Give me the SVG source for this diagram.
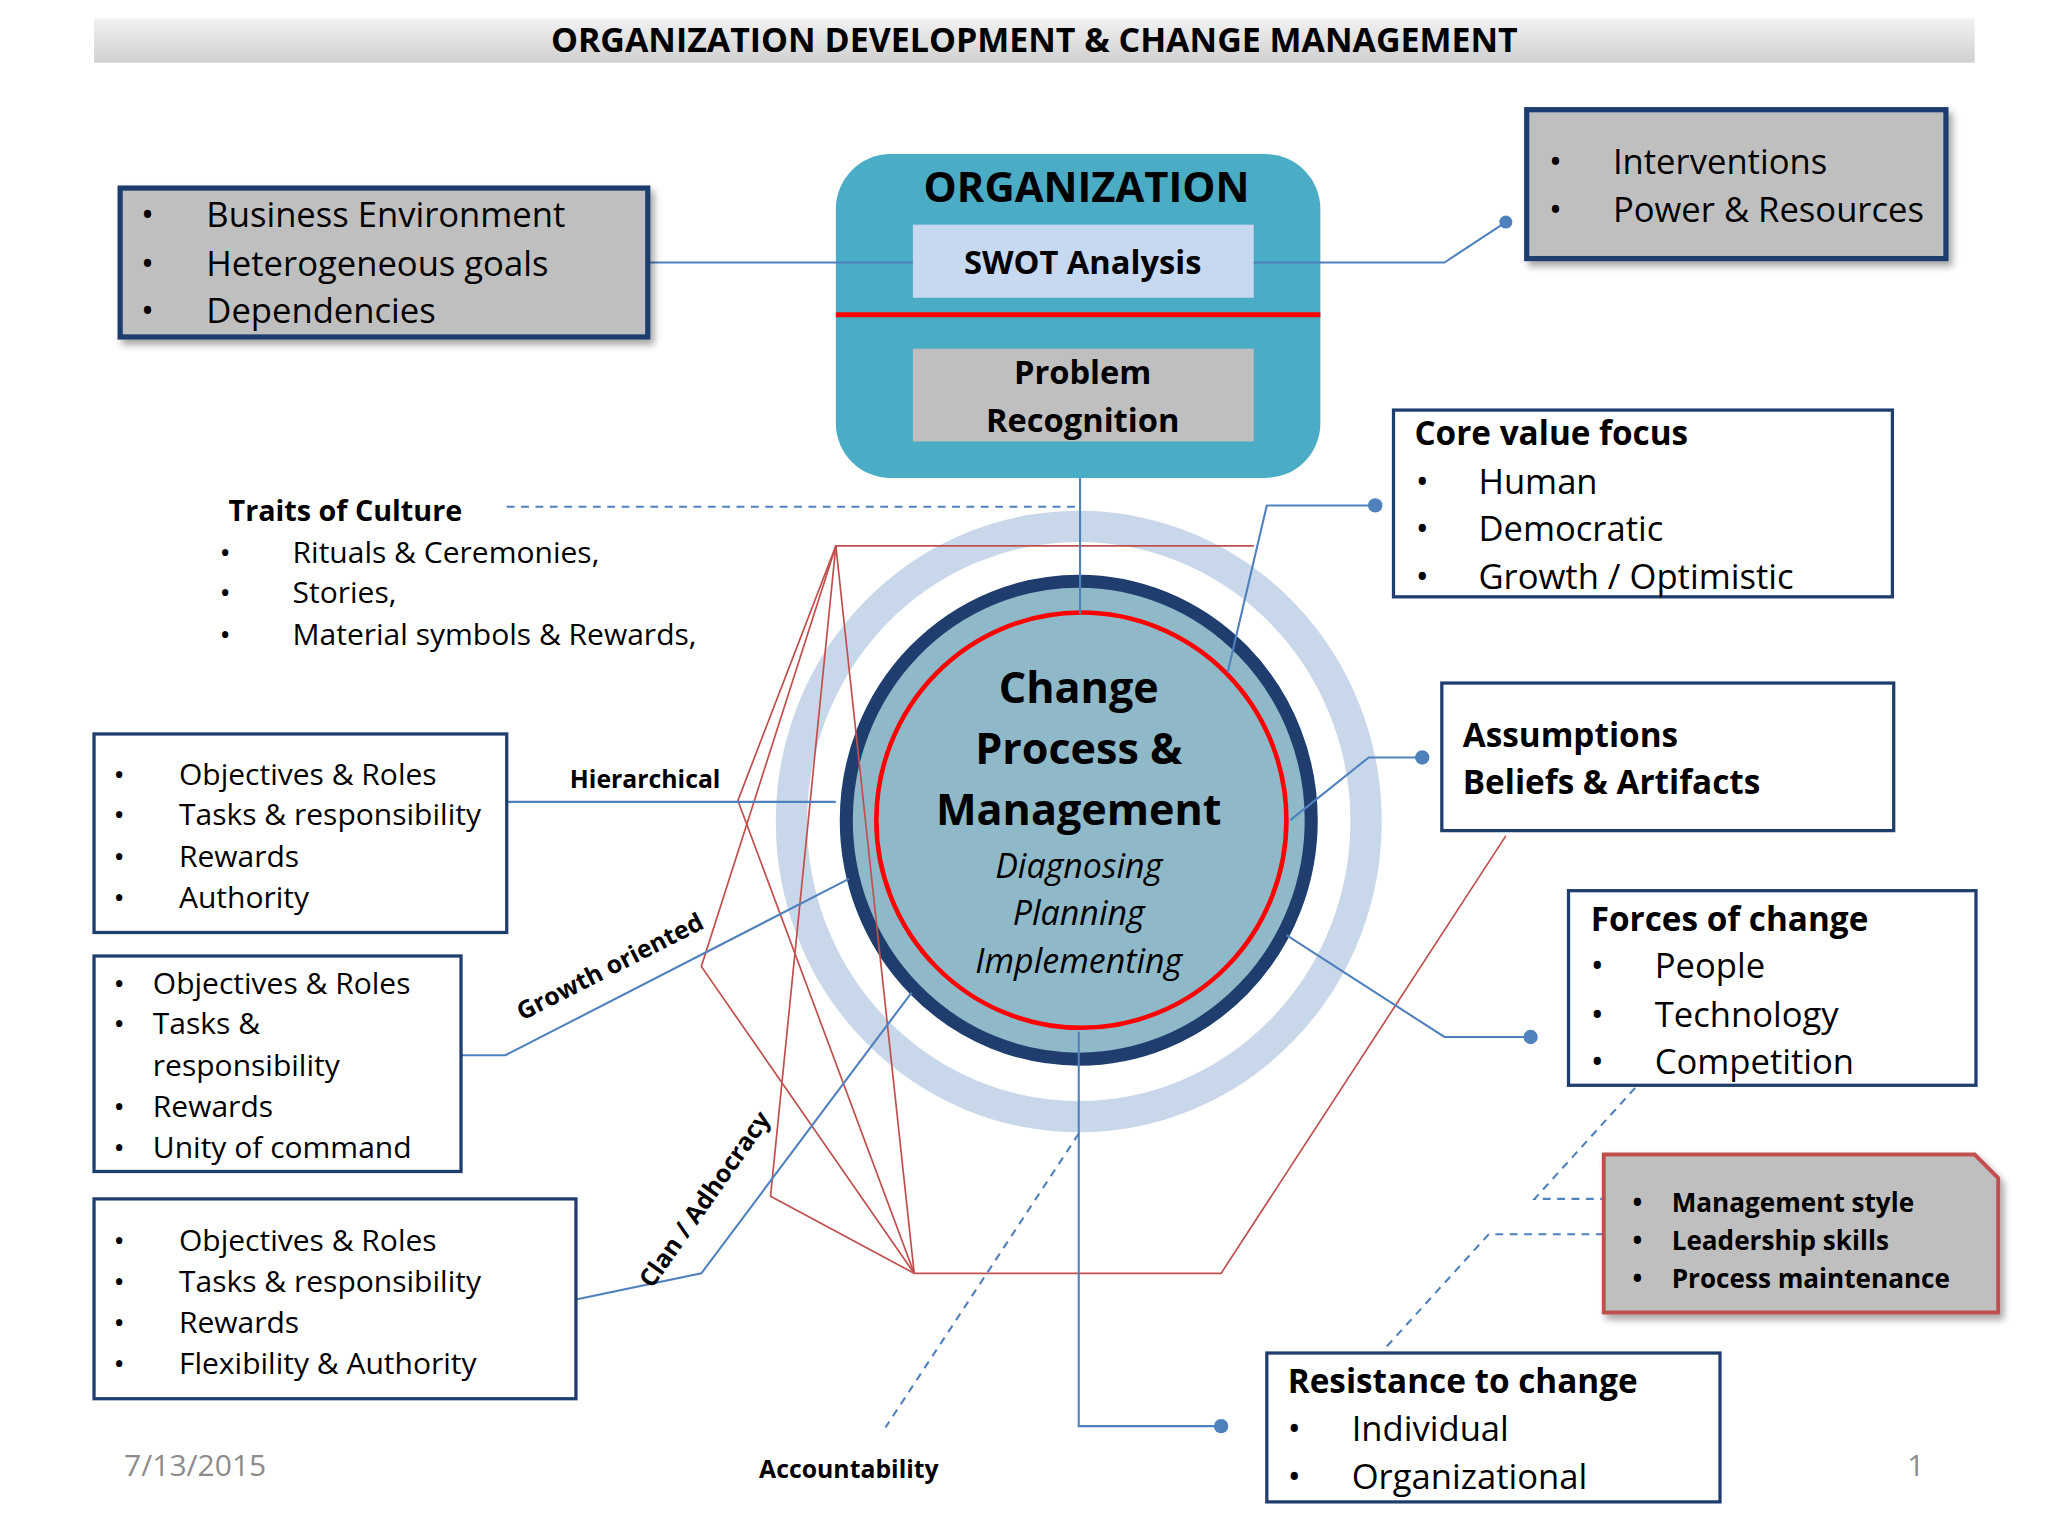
<svg xmlns="http://www.w3.org/2000/svg" width="2048" height="1536" viewBox="0 0 2048 1536">
<style>
text{font-family:"Open Sans","Liberation Sans",sans-serif;fill:#000}
.b{font-weight:bold}
.box{fill:#fff;stroke:#1f3e6e;stroke-width:2.5}
.gbox{fill:#bfbfbf;stroke:#1f3e6e;stroke-width:4}
.bl{fill:none;stroke:#4f81bd;stroke-width:1.6}
.dl{fill:none;stroke:#4f81bd;stroke-width:1.6;stroke-dasharray:6 5}
.rl{fill:none;stroke:#c0504d;stroke-width:1.3}
.t28{font-size:26.5px}.t24{font-size:23px}
</style>
<defs>
<linearGradient id="tg" x1="0" y1="0" x2="0" y2="1"><stop offset="0" stop-color="#f2f2f2"/><stop offset="1" stop-color="#d0d0d0"/></linearGradient>
<filter id="sh"><feDropShadow dx="3" dy="4" stdDeviation="3" flood-opacity="0.35"/></filter>
</defs>
<rect width="2048" height="1536" fill="#fff"/>
<g transform="scale(1.306)">
<g id="title"><rect x="72" y="14" width="1440" height="34" fill="url(#tg)"/><text x="792" y="40" text-anchor="middle" class="b" font-size="26">ORGANIZATION DEVELOPMENT &amp; CHANGE MANAGEMENT</text></g>

<g id="circles">
<ellipse cx="826" cy="629" rx="220" ry="226" fill="none" stroke="#c9d7ea" stroke-width="24"/>
<ellipse cx="826" cy="628" rx="178" ry="183" fill="#8fb9c9" stroke="#1f3e6e" stroke-width="10"/>
<ellipse cx="828" cy="628" rx="157" ry="159" fill="none" stroke="#ff0000" stroke-width="3.5"/>
</g>

<g id="organization">
<rect x="640" y="118" width="371" height="248" rx="42" fill="#4bacc6"/>
<text x="832" y="155" text-anchor="middle" class="b" font-size="32">ORGANIZATION</text>
<rect x="699" y="172" width="261" height="56" fill="#c6d9f1"/>
<text x="829" y="210" text-anchor="middle" class="b" font-size="25">SWOT Analysis</text>
<line x1="640" y1="241" x2="1011" y2="241" stroke="#ff0000" stroke-width="4"/>
<rect x="699" y="267" width="261" height="71" fill="#bfbfbf"/>
<text x="829" y="294" text-anchor="middle" class="b" font-size="25">Problem</text>
<text x="829" y="331" text-anchor="middle" class="b" font-size="25">Recognition</text>
</g>

<g id="connectors">
<polyline class="rl" points="960,418 640,418 565,613 700,975 935,975 1153,640"/>
<polyline class="rl" points="640,418 537,740 700,975"/>
<polyline class="rl" points="640,418 590,916 700,975"/>
<polyline class="rl" points="640,418 700,975"/>
<line class="bl" x1="496" y1="201" x2="699" y2="201"/>
<polyline class="bl" points="960,201 1106,201 1153,170"/>
<circle cx="1153" cy="170" r="5" fill="#4f81bd"/>
<line class="bl" x1="827" y1="366" x2="827" y2="470"/>
<line class="bl" x1="388" y1="614" x2="640" y2="614"/>
<polyline class="bl" points="353,808 387,808 650,673"/>
<polyline class="bl" points="441,995 537,975 698,760"/>
<polyline class="bl" points="940,515 970,387 1053,387"/><circle cx="1053" cy="387" r="5.5" fill="#4f81bd"/>
<polyline class="bl" points="988,628 1048,580 1089,580"/><circle cx="1089" cy="580" r="5.5" fill="#4f81bd"/>
<polyline class="bl" points="985,716 1106,794 1172,794"/><circle cx="1172" cy="794" r="5.5" fill="#4f81bd"/>
<polyline class="bl" points="826,790 826,1092 935,1092"/><circle cx="935" cy="1092" r="5.5" fill="#4f81bd"/>
<line class="dl" x1="388" y1="388" x2="828" y2="388"/>
<line class="dl" x1="826" y1="868" x2="678" y2="1093"/>
<polyline class="dl" points="1252,833 1175,918 1228,918"/>
<polyline class="dl" points="1228,945 1140,945 1060,1033"/>
<text x="494" y="603" text-anchor="middle" class="b" font-size="19">Hierarchical</text>
<text transform="translate(470,746) rotate(-27)" text-anchor="middle" class="b" font-size="19">Growth oriented</text>
<text transform="translate(545,922) rotate(-55)" text-anchor="middle" class="b" font-size="19">Clan / Adhocracy</text>
<text x="650" y="1132" text-anchor="middle" class="b" font-size="19">Accountability</text>
</g>

<g id="center-text" text-anchor="middle">
<text x="826" y="538" class="b" font-size="33">Change</text>
<text x="826" y="585" class="b" font-size="33">Process &amp;</text>
<text x="826" y="632" class="b" font-size="33">Management</text>
<text x="826" y="672" font-size="26" font-style="italic">Diagnosing</text>
<text x="826" y="708" font-size="26" font-style="italic">Planning</text>
<text x="826" y="745" font-size="26" font-style="italic">Implementing</text>
</g>

<g id="business">
<rect x="92" y="144" width="404" height="114" class="gbox" filter="url(#sh)"/>
<g class="t28"><text x="108" y="174">•</text><text x="158" y="174">Business Environment</text>
<text x="108" y="211">•</text><text x="158" y="211">Heterogeneous goals</text>
<text x="108" y="247">•</text><text x="158" y="247">Dependencies</text></g>
</g>

<g id="interventions">
<rect x="1169" y="84" width="321" height="114" class="gbox" filter="url(#sh)"/>
<g class="t28"><text x="1186" y="133">•</text><text x="1235" y="133">Interventions</text>
<text x="1186" y="170">•</text><text x="1235" y="170">Power &amp; Resources</text></g>
</g>

<g id="corevalue">
<rect x="1067" y="314" width="382" height="143" class="box"/>
<g class="t28"><text x="1083" y="341" class="b" font-size="25.5">Core value focus</text>
<text x="1084" y="378">•</text><text x="1132" y="378">Human</text>
<text x="1084" y="414">•</text><text x="1132" y="414">Democratic</text>
<text x="1084" y="451">•</text><text x="1132" y="451">Growth / Optimistic</text></g>
</g>

<g id="assumptions">
<rect x="1104" y="523" width="346" height="113" class="box"/>
<text x="1120" y="572" class="b" font-size="25.5">Assumptions</text>
<text x="1120" y="608" class="b" font-size="25.5">Beliefs &amp; Artifacts</text>
</g>

<g id="forces">
<rect x="1201" y="682" width="312" height="149" class="box" stroke-width="4"/>
<g class="t28"><text x="1218" y="713" class="b" font-size="25.5">Forces of change</text>
<text x="1218" y="749">•</text><text x="1267" y="749">People</text>
<text x="1218" y="786">•</text><text x="1267" y="786">Technology</text>
<text x="1218" y="822">•</text><text x="1267" y="822">Competition</text></g>
</g>

<g id="management">
<path d="M1228,884 H1512 L1530,902 V1005 H1228 Z" fill="#bfbfbf" stroke="#c0504d" stroke-width="3" filter="url(#sh)"/>
<g class="b" font-size="20"><text x="1250" y="928">•</text><text x="1280" y="928">Management style</text>
<text x="1250" y="957">•</text><text x="1280" y="957">Leadership skills</text>
<text x="1250" y="986">•</text><text x="1280" y="986">Process maintenance</text></g>
</g>

<g id="resistance">
<rect x="970" y="1036" width="347" height="114" class="box" stroke-width="4"/>
<g class="t28"><text x="986" y="1067" class="b" font-size="25.5">Resistance to change</text>
<text x="986" y="1103">•</text><text x="1035" y="1103">Individual</text>
<text x="986" y="1140">•</text><text x="1035" y="1140">Organizational</text></g>
</g>

<g id="traits" class="t24">
<text x="175" y="399" class="b" font-size="22">Traits of Culture</text>
<text x="168" y="431">•</text><text x="224" y="431">Rituals &amp; Ceremonies,</text>
<text x="168" y="462">•</text><text x="224" y="462">Stories,</text>
<text x="168" y="494">•</text><text x="224" y="494">Material symbols &amp; Rewards,</text>
</g>

<g id="hier" class="t24">
<rect x="72" y="562" width="316" height="152" class="box"/>
<text x="87" y="601">•</text><text x="137" y="601">Objectives &amp; Roles</text>
<text x="87" y="632">•</text><text x="137" y="632">Tasks &amp; responsibility</text>
<text x="87" y="664">•</text><text x="137" y="664">Rewards</text>
<text x="87" y="695">•</text><text x="137" y="695">Authority</text>
</g>

<g id="growth" class="t24">
<rect x="72" y="732" width="281" height="165" class="box"/>
<text x="87" y="761">•</text><text x="117" y="761">Objectives  &amp; Roles</text>
<text x="87" y="792">•</text><text x="117" y="792">Tasks &amp;</text>
<text x="117" y="824">responsibility</text>
<text x="87" y="855">•</text><text x="117" y="855">Rewards</text>
<text x="87" y="887">•</text><text x="117" y="887">Unity of command</text>
</g>

<g id="clan" class="t24">
<rect x="72" y="918" width="369" height="153" class="box"/>
<text x="87" y="958">•</text><text x="137" y="958">Objectives &amp; Roles</text>
<text x="87" y="989">•</text><text x="137" y="989">Tasks &amp; responsibility</text>
<text x="87" y="1021">•</text><text x="137" y="1021">Rewards</text>
<text x="87" y="1052">•</text><text x="137" y="1052">Flexibility  &amp; Authority</text>
</g>

<text x="95" y="1130" font-size="23" style="fill:#8c8c8c">7/13/2015</text>
<text x="1467" y="1130" font-size="23" text-anchor="middle" style="fill:#8c8c8c">1</text>
</g>
</svg>
